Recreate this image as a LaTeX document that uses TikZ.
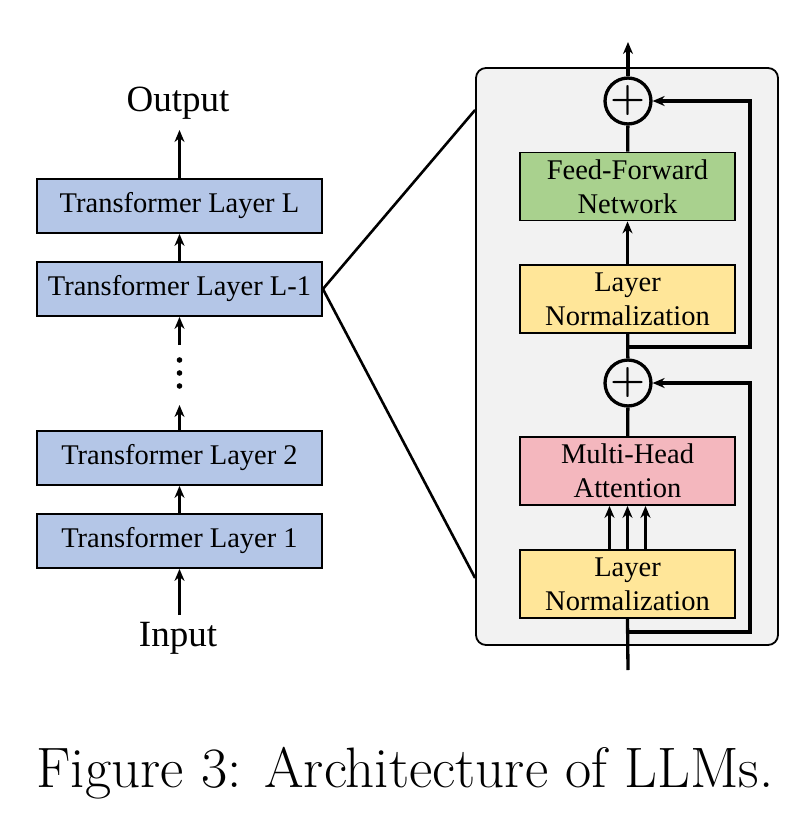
\documentclass[tikz,border=0pt]{standalone}
\usepackage{fontspec}
\newfontfamily\tnr{Liberation Serif}
\usetikzlibrary{arrows.meta}
\definecolor{lblue}{RGB}{180,198,231}
\definecolor{lgreen}{RGB}{169,209,142}
\definecolor{lyellow}{RGB}{255,230,153}
\definecolor{lpink}{RGB}{244,183,190}
\definecolor{lgray}{RGB}{242,242,242}
\begin{document}
\begin{tikzpicture}[x=1pt,y=-1pt,line width=3.3pt,
 >={Stealth[length=12pt,width=10pt]},
 lay/.style={draw,line width=1.8pt,fill=lblue,minimum width=285pt,minimum height=54pt,font=\tnr\fontsize{28.5}{32}\selectfont},
 blk/.style={draw,line width=1.8pt,minimum width=215pt,minimum height=68pt,align=center,font=\tnr\fontsize{28.5}{34}\selectfont},
 plus/.style={draw,circle,line width=3.3pt,minimum size=44pt,inner sep=0pt,font=\fontsize{40}{40}\selectfont\bfseries}]
\useasboundingbox (0,0) rectangle (803,833);
\node[lay] (L) at (179.5,206) {Transformer Layer L};
\node[lay] (L1) at (179.5,289) {Transformer Layer L-1};
\node[lay] (L2) at (179.5,458) {Transformer Layer 2};
\node[lay] (La) at (179.5,541) {Transformer Layer 1};
\node[font=\tnr\fontsize{37}{40}\selectfont,inner sep=2pt] (out) at (178,103) {Output};
\node[font=\tnr\fontsize{37}{40}\selectfont,inner sep=2pt] (in) at (178,638) {Input};
\draw[->] (179.5,615) -- (La.south);
\draw[->] (La) -- (L2);
\draw[->] (L1) -- (L);
\draw[->] (L.north) -- (179.5,130);
\coordinate (d1) at (179.5,345); \coordinate (d2) at (179.5,405);
\draw[->] (d1) -- (L1.south);
\draw[->] (L2.north) -- (d2);
\foreach \yy in {360,373,386} \fill (179.5,\yy) circle (2.8pt);
\node[draw,line width=1.8pt,fill=lgray,rounded corners=10pt,minimum width=302pt,minimum height=577pt] (panel) at (627,356.5) {};
\node[plus] (p2) at (628,101) {+};
\node[blk,fill=lgreen] (ffn) at (627.5,186.5) {Feed-Forward\\Network};
\node[blk,fill=lyellow] (ln2) at (627.5,299) {Layer\\Normalization};
\node[plus] (p1) at (628,383) {+};
\node[blk,fill=lpink] (mha) at (627.5,471) {Multi-Head\\Attention};
\node[blk,fill=lyellow] (ln1) at (627.5,584) {Layer\\Normalization};
\coordinate (bot) at (628,670);
\coordinate (top) at (628,42);
\draw (bot) -- (ln1.south);
\draw[->] (p2) -- (top);
\draw (ffn) -- (p2);
\draw[->] (ln2) -- (ffn);
\draw (p1) -- (ln2);
\draw (mha) -- (p1);
\foreach \dx in {-18,0,18} \draw[->] ([xshift=\dx pt]ln1.north) -- ([xshift=\dx pt]mha.south);
\draw[->] (628,632) -- (750,632) -- (750,383) -- (p1.east);
\draw[->] (628,347) -- (750,347) -- (750,101) -- (p2.east);
\draw[line width=2.6pt] (L1.east) -- (panel.north west |- 0,110);
\draw[line width=2.6pt] (L1.east) -- (panel.north west |- 0,578);
\node[font=\fontsize{57}{60}\selectfont] (cap) at (405,773) {Figure 3: Architecture of LLMs.};
\end{tikzpicture}
\end{document}
